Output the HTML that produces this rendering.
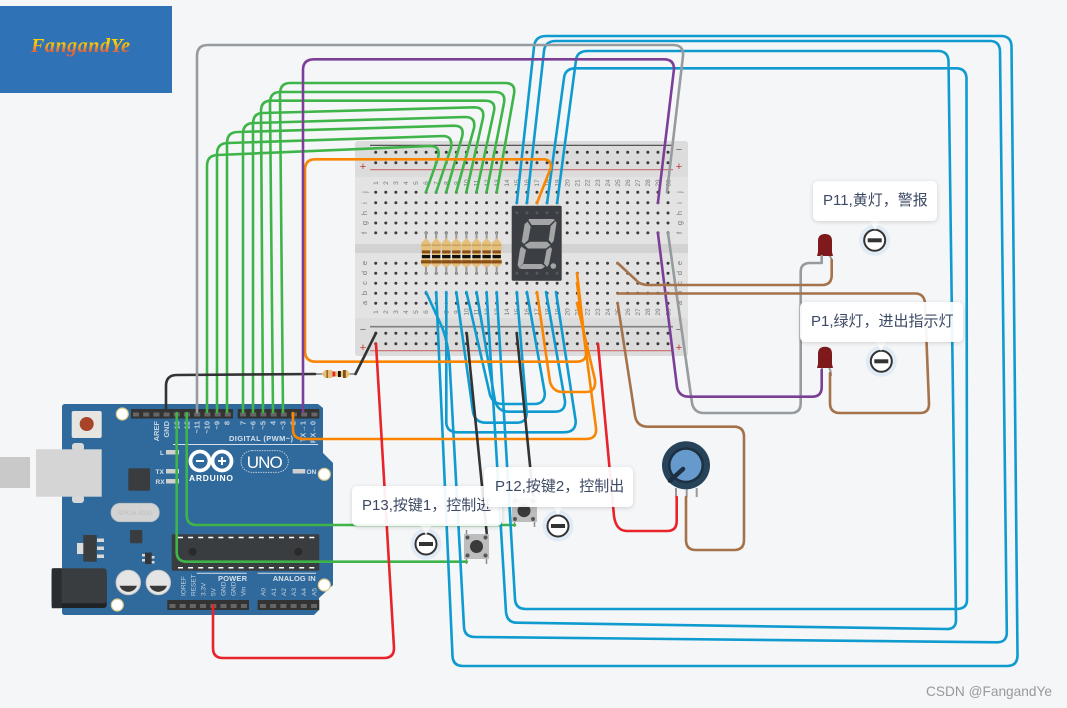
<!DOCTYPE html>
<html><head><meta charset="utf-8"><style>
html,body{margin:0;padding:0;background:#f4f6f8;width:1067px;height:708px;overflow:hidden}
svg{display:block;position:absolute;left:0;top:0}
.w{fill:none;stroke-width:2.6;stroke-linecap:round;stroke-linejoin:round}
.g{stroke:#3fb549}.b{stroke:#0f9bd0}.o{stroke:#f98500}.r{stroke:#e8232a}.k{stroke:#333}.gy{stroke:#959b9e}.p{stroke:#7b3f98}.br{stroke:#a5724a}
.n text{font:6.5px "Liberation Sans",sans-serif;fill:#777;text-anchor:middle}
.l text{font:7.5px "Liberation Sans",sans-serif;fill:#777;text-anchor:middle}
.pl text{font:bold 7.5px "Liberation Sans",sans-serif;fill:#c3d2e0;text-anchor:end}
.pb text{font:6.5px "Liberation Sans",sans-serif;fill:#c3d2e0;text-anchor:start}
.t{position:absolute;height:40px;line-height:40px;background:rgba(255,255,255,.93);border-radius:5px;box-shadow:0 1px 5px rgba(0,0,0,.16);font:15px/40px "Liberation Sans","Noto Sans CJK SC",sans-serif;color:#3d4a66;box-sizing:border-box;white-space:nowrap;overflow:hidden}
.a{position:absolute;width:0;height:0;border-left:5px solid transparent;border-right:5px solid transparent;border-top:9px solid rgba(255,255,255,.93)}
</style></head><body>
<svg width="1067" height="708" viewBox="0 0 1067 708" xmlns="http://www.w3.org/2000/svg">
<defs>
<linearGradient id="lg" x1="0" y1="0" x2="0" y2="1"><stop offset="0.35" stop-color="#ffd000"/><stop offset="0.75" stop-color="#e0653f"/></linearGradient>
<g id="res">
<path d="M0 -16V28" stroke="#9a9a9a" stroke-width="2" fill="none"/>
<path d="M0 -9L4.800 -4V2L4 4V12L5 15V17L1.500 20H-1.500L-5 17V15L-4 12V4L-4.800 2V-4Z" fill="#e4c07c"/>
<rect x="-4.500" y="-2.500" width="9" height="1.500" fill="#c9a15e"/>
<rect x="-4.200" y="3.400" width="8.400" height="3" fill="#8a4f16"/>
<rect x="-4.200" y="8" width="8.400" height="3.200" fill="#111"/>
<rect x="-5" y="13.200" width="10" height="3.200" fill="#8a4f16"/>
</g>
<g id="hole"><circle r="6" fill="#fff" stroke="#d9c98a" stroke-width="1.2"/></g>
</defs>

<!-- logo -->
<rect x="0" y="6" width="172" height="87" fill="#2f72b5"/>
<text x="31" y="52" font-family="Liberation Serif,serif" font-style="italic" font-weight="bold" font-size="20" fill="url(#lg)" textLength="99">FangandYe</text>

<!-- breadboard -->
<rect x="355" y="141" width="333" height="215" rx="3" fill="#e3e3e3"/>
<rect x="355" y="141" width="333" height="36" rx="3" fill="#dcdcdc"/>
<rect x="355" y="318" width="333" height="38" rx="3" fill="#dcdcdc"/>
<rect x="355" y="244" width="333" height="9" fill="#d2d2d2"/>
<path d="M370 145.3H673" stroke="#444" stroke-width="1.2"/>
<path d="M370 169.7H673" stroke="#c86a6a" stroke-width="1.2"/>
<path d="M370 326.7H673" stroke="#808080" stroke-width="1.6"/>
<path d="M370 350.7H673" stroke="#c86a6a" stroke-width="1.2"/>
<path d="M375.7 152.3H669M375.7 162.7H669M375.7 192.3H669M375.7 202.7H669M375.7 213H669M375.7 223H669M375.7 232.9H669M375.7 263.3H669M375.7 273.3H669M375.7 283.3H669M375.7 293.3H669M375.7 303.3H669M375.7 333.3H669M375.7 343.7H669" stroke="#3a3a3a" stroke-width="3" stroke-linecap="round" stroke-dasharray="0 10.08" fill="none"/>
<g font-family="Liberation Sans,sans-serif" font-size="11">
<text x="363" y="153" fill="#666" text-anchor="middle">−</text><text x="679" y="153" fill="#666" text-anchor="middle">−</text>
<text x="363" y="170" fill="#c0392b" text-anchor="middle">+</text><text x="679" y="170" fill="#c0392b" text-anchor="middle">+</text>
<text x="363" y="333" fill="#666" text-anchor="middle">−</text><text x="679" y="333" fill="#666" text-anchor="middle">−</text>
<text x="363" y="351" fill="#c0392b" text-anchor="middle">+</text><text x="679" y="351" fill="#c0392b" text-anchor="middle">+</text>
</g>
<g class="n">
<text transform="translate(378,183) rotate(-90)">1</text><text transform="translate(388,183) rotate(-90)">2</text><text transform="translate(398,183) rotate(-90)">3</text><text transform="translate(408,183) rotate(-90)">4</text><text transform="translate(418,183) rotate(-90)">5</text><text transform="translate(428,183) rotate(-90)">6</text><text transform="translate(438.5,183) rotate(-90)">7</text><text transform="translate(448.5,183) rotate(-90)">8</text><text transform="translate(458.5,183) rotate(-90)">9</text><text transform="translate(468.5,183) rotate(-90)">10</text><text transform="translate(478.5,183) rotate(-90)">11</text><text transform="translate(489,183) rotate(-90)">12</text><text transform="translate(499,183) rotate(-90)">13</text><text transform="translate(509,183) rotate(-90)">14</text><text transform="translate(519,183) rotate(-90)">15</text><text transform="translate(529,183) rotate(-90)">16</text><text transform="translate(539,183) rotate(-90)">17</text><text transform="translate(549.5,183) rotate(-90)">18</text><text transform="translate(559.5,183) rotate(-90)">19</text><text transform="translate(569.5,183) rotate(-90)">20</text><text transform="translate(579.5,183) rotate(-90)">21</text><text transform="translate(589.5,183) rotate(-90)">22</text><text transform="translate(600,183) rotate(-90)">23</text><text transform="translate(610,183) rotate(-90)">24</text><text transform="translate(620,183) rotate(-90)">25</text><text transform="translate(630,183) rotate(-90)">26</text><text transform="translate(640,183) rotate(-90)">27</text><text transform="translate(650,183) rotate(-90)">28</text><text transform="translate(660,183) rotate(-90)">29</text><text transform="translate(670.5,183) rotate(-90)">30</text>
<text transform="translate(378,312) rotate(-90)">1</text><text transform="translate(388,312) rotate(-90)">2</text><text transform="translate(398,312) rotate(-90)">3</text><text transform="translate(408,312) rotate(-90)">4</text><text transform="translate(418,312) rotate(-90)">5</text><text transform="translate(428,312) rotate(-90)">6</text><text transform="translate(438.5,312) rotate(-90)">7</text><text transform="translate(448.5,312) rotate(-90)">8</text><text transform="translate(458.5,312) rotate(-90)">9</text><text transform="translate(468.5,312) rotate(-90)">10</text><text transform="translate(478.5,312) rotate(-90)">11</text><text transform="translate(489,312) rotate(-90)">12</text><text transform="translate(499,312) rotate(-90)">13</text><text transform="translate(509,312) rotate(-90)">14</text><text transform="translate(519,312) rotate(-90)">15</text><text transform="translate(529,312) rotate(-90)">16</text><text transform="translate(539,312) rotate(-90)">17</text><text transform="translate(549.5,312) rotate(-90)">18</text><text transform="translate(559.5,312) rotate(-90)">19</text><text transform="translate(569.5,312) rotate(-90)">20</text><text transform="translate(579.5,312) rotate(-90)">21</text><text transform="translate(589.5,312) rotate(-90)">22</text><text transform="translate(600,312) rotate(-90)">23</text><text transform="translate(610,312) rotate(-90)">24</text><text transform="translate(620,312) rotate(-90)">25</text><text transform="translate(630,312) rotate(-90)">26</text><text transform="translate(640,312) rotate(-90)">27</text><text transform="translate(650,312) rotate(-90)">28</text><text transform="translate(660,312) rotate(-90)">29</text><text transform="translate(670.5,312) rotate(-90)">30</text>
</g>
<g class="l">
<text transform="translate(367,192) rotate(-90)">j</text><text transform="translate(367,203) rotate(-90)">i</text><text transform="translate(367,213) rotate(-90)">h</text><text transform="translate(367,223) rotate(-90)">g</text><text transform="translate(367,233) rotate(-90)">f</text>
<text transform="translate(367,263) rotate(-90)">e</text><text transform="translate(367,273) rotate(-90)">d</text><text transform="translate(367,283) rotate(-90)">c</text><text transform="translate(367,293) rotate(-90)">b</text><text transform="translate(367,303) rotate(-90)">a</text>
<text transform="translate(682,192) rotate(-90)">j</text><text transform="translate(682,203) rotate(-90)">i</text><text transform="translate(682,213) rotate(-90)">h</text><text transform="translate(682,223) rotate(-90)">g</text><text transform="translate(682,233) rotate(-90)">f</text>
<text transform="translate(682,263) rotate(-90)">e</text><text transform="translate(682,273) rotate(-90)">d</text><text transform="translate(682,283) rotate(-90)">c</text><text transform="translate(682,293) rotate(-90)">b</text><text transform="translate(682,303) rotate(-90)">a</text>
</g>
<!-- resistors on board -->
<g transform="translate(0,247)"><use href="#res" x="426"/><use href="#res" x="436.2"/><use href="#res" x="446.3"/><use href="#res" x="456.3"/><use href="#res" x="466.4"/><use href="#res" x="476.5"/><use href="#res" x="486.6"/><use href="#res" x="496.7"/></g>
<!-- 7 seg -->
<rect x="511.7" y="205.7" width="50" height="75" rx="1.5" fill="#3b3e42"/>
<path d="M516.8 212.7H558M516.8 273.3H558" stroke="#55585c" stroke-width="3" stroke-linecap="round" stroke-dasharray="0 10.08"/>
<g fill="#a3a5a6">
<polygon points="529.3,219 553.3,219 555,220 549.3,225 531.7,225 528.3,220"/>
<polygon points="527.6,221.7 530.7,226.5 528.3,240 524,244 521.7,241.7 524.6,224"/>
<polygon points="555.7,221 550.7,226 548.7,240 551.7,243.5 553.7,241 556.5,223"/>
<polygon points="524.5,245 530,241.7 547,241.7 550.5,245 546,248.5 528,248.5"/>
<polygon points="521.5,246.5 526,250 523.3,263.5 519,267.5 517.6,265 520,249"/>
<polygon points="550.5,247 546.5,250 544,263.5 547,267 549,264 552,249"/>
<polygon points="518.5,268 523.3,264 541.7,264 545,266.5 541.7,269 521.7,269"/>
<circle cx="553.3" cy="266" r="2.8"/>
</g>

<!-- arduino -->
<path d="M65 404H318L323 408V453L333 463V585L319 598V610L314 615H65Q62 615 62 612V407Q62 404 65 404Z" fill="#30699b"/>
<!-- USB -->
<rect x="0" y="457" width="30" height="31" fill="#c9c9c9"/>
<rect x="72" y="443" width="12" height="8" rx="3" fill="#d8d8d8"/><rect x="72" y="495" width="12" height="8" rx="3" fill="#d8d8d8"/>
<rect x="36" y="449.3" width="65.7" height="47.4" fill="#d5d5d5"/>
<!-- reset -->
<rect x="71.7" y="411" width="30" height="27" rx="2" fill="#e7e5e1"/><circle cx="86.7" cy="424" r="7" fill="#a84428"/>
<use href="#hole" x="122.3" y="414"/><use href="#hole" x="324.3" y="474.3"/><use href="#hole" x="324.3" y="585"/><use href="#hole" x="117.3" y="605"/>
<!-- headers -->
<g fill="#333"><rect x="131" y="409" width="102" height="9.5"/><rect x="237.7" y="409" width="81.6" height="9.5"/><rect x="167.3" y="600" width="81.7" height="10"/><rect x="257.7" y="600" width="61.6" height="10"/></g>
<path d="M133 414.5H232M240 414.5H318M169.5 606H248M260 606H318" stroke="#666" stroke-width="4" stroke-dasharray="6 4.2" fill="none"/>
<!-- pin labels -->
<g class="pl">
<text transform="translate(159,421) rotate(-90)">AREF</text><text transform="translate(169,421) rotate(-90)">GND</text><text transform="translate(179.5,421) rotate(-90)">13</text><text transform="translate(189.5,421) rotate(-90)">12</text><text transform="translate(199.5,421) rotate(-90)">~11</text><text transform="translate(209.5,421) rotate(-90)">~10</text><text transform="translate(219.5,421) rotate(-90)">~9</text><text transform="translate(229.5,421) rotate(-90)">8</text><text transform="translate(245.5,421) rotate(-90)">7</text><text transform="translate(255.5,421) rotate(-90)">~6</text><text transform="translate(265.5,421) rotate(-90)">~5</text><text transform="translate(275.5,421) rotate(-90)">4</text><text transform="translate(285.5,421) rotate(-90)">~3</text><text transform="translate(295.5,421) rotate(-90)">2</text><text transform="translate(305.5,421) rotate(-90)">TX→1</text><text transform="translate(315.5,421) rotate(-90)">RX←0</text>
</g>
<text x="229" y="441" font-family="Liberation Sans,sans-serif" font-weight="bold" font-size="7.5" fill="#d5e0ea" textLength="64">DIGITAL (PWM~)</text>
<path d="M173 444.5H318" stroke="#d5e0ea" stroke-width="1"/>
<!-- leds -->
<g fill="#cfcfcf"><rect x="166" y="450" width="13" height="4.5"/><rect x="166" y="469" width="13" height="4.5"/><rect x="166" y="479" width="13" height="4.5"/><rect x="292.7" y="469" width="12.5" height="4.5"/></g>
<g font-family="Liberation Sans,sans-serif" font-size="6.5" fill="#d5e0ea" font-weight="bold"><text x="160" y="455">L</text><text x="155.5" y="474">TX</text><text x="155.5" y="484">RX</text><text x="306.5" y="474">ON</text></g>
<!-- arduino logo -->
<g fill="none" stroke="#fff" stroke-width="3.8"><circle cx="200" cy="461" r="9.5"/><circle cx="222" cy="461" r="9.5"/></g>
<path d="M196 461H204M218 461H226M222 457V465" stroke="#fff" stroke-width="2" fill="none"/>
<text x="189" y="481" font-family="Liberation Sans,sans-serif" font-weight="bold" font-size="8.5" fill="#fff" textLength="44">ARDUINO</text>
<rect x="241" y="450.7" width="47.3" height="21.6" rx="10.8" fill="none" stroke="#cfdce8" stroke-width=".8" stroke-dasharray="1.5 1"/>
<text x="264.7" y="468" font-family="Liberation Sans,sans-serif" font-size="17" fill="#fff" text-anchor="middle" textLength="36">UNO</text>
<!-- chips -->
<rect x="128.3" y="468.3" width="21.7" height="22.4" rx="1.5" fill="#3a3d40"/>
<rect x="111" y="503.3" width="48.3" height="18.4" rx="9" fill="#d3d3d3" stroke="#b5bcc2" stroke-width=".8"/>
<text x="135" y="515" font-family="Liberation Sans,sans-serif" font-size="6" fill="#bdbdbd" text-anchor="middle">SPK16.000G</text>
<rect x="130" y="530" width="12.3" height="13.3" rx="1" fill="#3a3d40"/>
<rect x="77" y="543" width="7" height="11" fill="#dcdcdc"/>
<rect x="83.3" y="535" width="13.4" height="26.7" fill="#3a3d40"/>
<g fill="#d8d8d8"><rect x="97" y="538.5" width="7" height="3.5"/><rect x="97" y="546.5" width="7" height="3.5"/><rect x="97" y="554.5" width="7" height="3.5"/><rect x="142" y="554" width="3" height="2.5"/><rect x="142" y="559" width="3" height="2.5"/><rect x="151.5" y="556" width="3" height="2.5"/><rect x="151.5" y="561" width="3" height="2.5"/></g>
<rect x="145" y="552.5" width="6.7" height="11.5" fill="#33363a"/>
<!-- IC -->
<rect x="171.7" y="534.3" width="147.6" height="36.4" rx="1" fill="#3a3d40"/>
<path d="M178 537.5H316M178 567.8H316" stroke="#fff" stroke-width="1.5" stroke-dasharray="5 5.1"/>
<circle cx="192.7" cy="551.7" r="4" fill="#2a2a2a"/><circle cx="298.3" cy="551.7" r="4" fill="#2a2a2a"/>
<!-- caps -->
<g>
<circle cx="128.3" cy="582.5" r="12.2" fill="#e5e5e5" stroke="#c9c9c9"/><path d="M119.5 585.7H137A9.3 9.3 0 0 1 119.5 585.7Z" fill="#3a3a3a"/>
<circle cx="158.3" cy="582.5" r="12.2" fill="#e5e5e5" stroke="#c9c9c9"/><path d="M149.5 585.7H167A9.3 9.3 0 0 1 149.5 585.7Z" fill="#3a3a3a"/>
</g>
<!-- jack -->
<rect x="51.7" y="572" width="55" height="36" rx="3" fill="#1f2326"/>
<rect x="51.7" y="568.3" width="55" height="35" rx="3" fill="#3a3d40"/>
<rect x="51.7" y="568.3" width="10" height="40" rx="1" fill="#2a2d30"/>
<!-- power labels -->
<text x="218" y="581" font-family="Liberation Sans,sans-serif" font-weight="bold" font-size="7.5" fill="#d5e0ea" textLength="29">POWER</text>
<text x="272.7" y="581" font-family="Liberation Sans,sans-serif" font-weight="bold" font-size="7.5" fill="#d5e0ea" textLength="43">ANALOG IN</text>
<path d="M196.7 573.3H246.7M257.7 573.3H316" stroke="#d5e0ea" stroke-width="1"/>
<g class="pb">
<text transform="translate(185.5,596) rotate(-90)">IOREF</text><text transform="translate(195.5,596) rotate(-90)">RESET</text><text transform="translate(205.5,596) rotate(-90)">3.3V</text><text transform="translate(215.5,596) rotate(-90)">5V</text><text transform="translate(225.5,596) rotate(-90)">GND</text><text transform="translate(235.5,596) rotate(-90)">GND</text><text transform="translate(245.5,596) rotate(-90)">Vin</text>
<text transform="translate(265.5,596) rotate(-90)">A0</text><text transform="translate(276,596) rotate(-90)">A1</text><text transform="translate(286,596) rotate(-90)">A2</text><text transform="translate(296,596) rotate(-90)">A3</text><text transform="translate(306,596) rotate(-90)">A4</text><text transform="translate(316.5,596) rotate(-90)">A5</text>
</g>

<!-- LEDs -->
<path d="M822 255V263M829 255Q832 258 832 264M822 368V380M829 368Q831 370 831 376" stroke="#9a9a9a" stroke-width="2" fill="none"/>
<path d="M818 252V241Q818 234 825 234Q832 234 832 241V252L833 256H817Z" fill="#7e1a1c"/>
<path d="M818 364V353.7Q818 346.7 825 346.7Q832 346.7 832 353.7V364L833 368H817Z" fill="#7e1a1c"/>

<!-- pot -->
<path d="M676 488V497M686.7 488V497M696.7 488V497" stroke="#9a9a9a" stroke-width="2"/>
<circle cx="686" cy="465.3" r="24" fill="#27435a"/>
<circle cx="686" cy="465.3" r="18" fill="#1d2f40"/>
<circle cx="686" cy="465.3" r="15.5" fill="#6699cc"/>
<path d="M683 469L670 480.7" stroke="#1d2f40" stroke-width="4.5" stroke-linecap="round"/>

<!-- buttons -->
<g stroke="#8d8d8d" stroke-width="1.5"><path d="M466.5 530V534M486.5 530V534M466.5 559V564M486.5 559V564M514.5 494V498M534.5 494V498M514.5 522V527M534.5 522V527"/></g>
<g><rect x="464" y="534" width="25" height="25" fill="#bdbdbd"/><circle cx="476.5" cy="546.5" r="6.5" fill="#3a3a3a"/><g fill="#555"><circle cx="467.5" cy="537.5" r="2"/><circle cx="485.5" cy="537.5" r="2"/><circle cx="467.5" cy="555.5" r="2"/><circle cx="485.5" cy="555.5" r="2"/></g></g>
<g><rect x="511.7" y="498" width="25.3" height="24" fill="#bdbdbd"/><circle cx="524" cy="510.7" r="6.5" fill="#3a3a3a"/><g fill="#555"><circle cx="515" cy="501" r="2"/><circle cx="533" cy="501" r="2"/><circle cx="515" cy="519" r="2"/><circle cx="533" cy="519" r="2"/></g></g>

<!-- horizontal resistor -->
<path d="M315 374H356" stroke="#9a9a9a" stroke-width="2"/>
<path d="M321.5 374L325 370H331L334 371.5H342L344 370H347L350.5 374L347 378H344L342 376.5H334L331 378H325Z" fill="#e4c07c"/>
<rect x="326.5" y="370" width="1.3" height="8" fill="#8a4f16"/><rect x="332.5" y="371.5" width="2.8" height="5" fill="#e8232a"/><rect x="338" y="371" width="2.8" height="6" fill="#111"/><rect x="343" y="370" width="2.8" height="8" fill="#8a4f16"/>

<!-- wires: green -->
<g class="w g">
<path d="M426 192L438 158Q441 146 430 146L218 155Q207 155 207 166V412"/>
<path d="M436.2 192L451 148Q453 136 443 136L228 143Q217 143 217 154V412"/>
<path d="M446.3 192L462 137Q465 125.7 454 125.7L238 132Q227 132 227 143V412"/>
<path d="M456.3 192L474 128Q476 117 465 117L254 123Q243 123 243 134V412"/>
<path d="M466.4 192L483 118Q485 107.3 474 107.3L263 113Q253 113 253 124V412"/>
<path d="M476.5 192L494 111Q496 100.7 485 100.7L271 100.7Q261 100.7 261 111L263 412"/>
<path d="M486.6 192L504 103Q506 92 495 92H280Q270 92 270 103L273 412"/>
<path d="M496.7 192L514 94Q516 83 505 83H290Q280 83 280 94L283 412"/>
<path d="M176.7 413V552Q176.7 561.7 187 561.7H466.7"/>
<path d="M186.7 413V515Q186.7 525 197 525H515"/>
</g>
<!-- wires: blue -->
<g class="w b">
<path d="M516.8 203L534 47Q535 36 546 36H1001Q1011 36 1011.5 46L1017.5 655Q1017.5 666 1007 666H463Q453 666 452.5 656L436.2 292"/>
<path d="M526.9 203L544 51Q545 41 556 41H990Q999.5 41 1000 51L1006.8 632Q1007 642.3 997 642.3L475 637Q464.5 637 464 627L450 370Q449 345 442 327L426 292"/>
<path d="M547.1 203L564 78Q565 68.3 576 68.3H956Q966 68.3 966.5 78L967 600Q967 609 956 609H526Q515.5 609 515 599L496.7 292"/>
<path d="M557.1 203L576 60Q577 51 588 51H938Q948 51 948.5 61L956 620Q956 629.5 946 629L517 622.7Q507 622.7 506 612L486.6 292"/>
<path d="M456.3 292L473 412Q475 422.7 486 422.7H517Q527 422.7 526.7 412L516.8 292"/>
<path d="M466.4 292L490 395Q493 404 503 404H534Q545 404 544.8 393L526.9 292"/>
<path d="M476.5 292L495 401Q498 411.7 509 411.7H555Q565.5 411.7 565 401L546 292"/>
<path d="M446.3 292V423Q447 432.3 458 432.3H564Q576 432.3 575.7 421L556 292"/>
</g>
<!-- wires: orange -->
<g class="w o">
<path d="M537 203L550.7 168Q552 159.3 543 159.3H315Q305 159.3 305 170V351Q305 361.7 316 361.7H576Q587 361.7 586 352L577 273"/>
<path d="M293 413V430Q293 439 304 439H586Q597 439 596 428L577 283"/>
<path d="M577 303L595 380Q596 392 586 392H563Q553 392 550 382L537 292"/>
</g>
<!-- black, red etc -->
<g class="w k">
<path d="M166 411V386Q166 375 177 375L315 374"/>
<path d="M376 333L355.5 374"/>
<path d="M466.7 333L486.7 533"/>
<path d="M516.7 333L533 495"/>
</g>
<g class="w r">
<path d="M376 343.7L394 648Q394 658 384 658H223Q213 658 213 648V605"/>
<path d="M598 343.7L614 516Q616 531 627 531H667Q676.7 531 676.7 521V497"/>
</g>
<g class="w gy">
<path d="M197 412V56Q197 45 208 45H673Q684 45 683 56L667 192"/>
<path d="M668 233L692 403Q694 413 704 413H791Q800.7 413 800.7 403V272Q800.7 263 810 263H821.7V256"/>
</g>
<g class="w p">
<path d="M303 412V70Q303 59.3 314 59.3H664Q674 59.3 674 69L657.9 203"/>
<path d="M657.9 233L677 387Q679 396.7 689 396.7H812Q821.7 396.7 821.7 387V370"/>
</g>
<g class="w br">
<path d="M617.6 263L636 280Q640 285 650 285H822Q831.7 285 831.7 275V260"/>
<path d="M617.6 293.5H915Q924 293.5 925 303L929 404Q929 413 920 413H840Q830 413 830 403V373"/>
<path d="M617.6 303L635 416Q637 426.7 648 426.7H734Q744 426.7 744 437V540Q744 550 734 550H696Q686 550 686 540V497"/>
</g>

<!-- minus icons -->
<g>
<circle cx="426" cy="544" r="15.5" fill="#e0ebf5"/><circle cx="426" cy="544" r="10.5" fill="#fff" stroke="#333" stroke-width="2"/><rect x="419" y="542" width="14" height="4" fill="#333"/>
<circle cx="558" cy="526" r="15.5" fill="#e0ebf5"/><circle cx="558" cy="526" r="10.5" fill="#fff" stroke="#333" stroke-width="2"/><rect x="551" y="524" width="14" height="4" fill="#333"/>
<circle cx="874.7" cy="240.3" r="15.5" fill="#e0ebf5"/><circle cx="874.7" cy="240.3" r="10.5" fill="#fff" stroke="#333" stroke-width="2"/><rect x="867.7" y="238.3" width="14" height="4" fill="#333"/>
<circle cx="881.3" cy="361.3" r="15.5" fill="#e0ebf5"/><circle cx="881.3" cy="361.3" r="10.5" fill="#fff" stroke="#333" stroke-width="2"/><rect x="874.3" y="359.3" width="14" height="4" fill="#333"/>
</g>
<text x="926" y="696" font-family="Liberation Sans,sans-serif" font-size="14" fill="#999" textLength="126" lengthAdjust="spacingAndGlyphs">CSDN @FangandYe</text>
</svg>
<div class="a" style="left:421px;top:526px"></div>
<div class="t" style="left:352px;top:486px;width:150px;padding-left:10px">P13,按键1，控制进</div>
<div class="a" style="left:553px;top:506px"></div>
<div class="t" style="left:484px;top:467px;width:149px;padding-left:11px">P12,按键2，控制出</div>
<div class="a" style="left:870px;top:221px"></div>
<div class="t" style="left:813px;top:181px;width:124px;padding-left:10px">P11,黄灯，警报</div>
<div class="a" style="left:876px;top:342px"></div>
<div class="t" style="left:800px;top:302px;width:163px;padding-left:11px">P1,绿灯，进出指示灯</div>
</body></html>
